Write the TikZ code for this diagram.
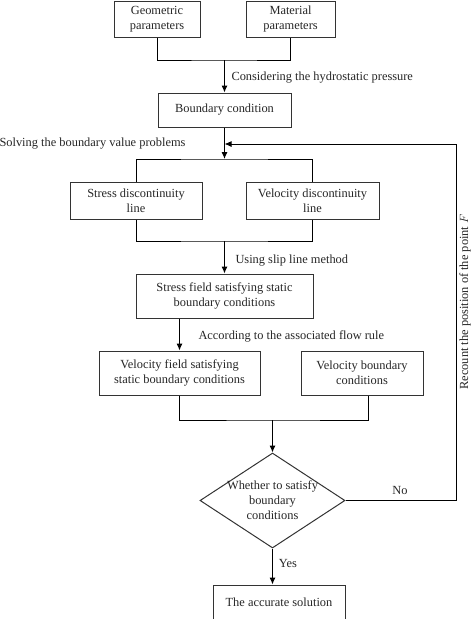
\documentclass[tikz,border=0pt]{standalone}
\usepackage{fontspec}
\setmainfont{Liberation Serif}
\usepackage{tikz}
\usetikzlibrary{arrows.meta,positioning,calc,shapes.geometric}

\begin{document}
\begin{tikzpicture}[
    x=1pt, y=-1pt,
    >={Latex[length=7pt,width=6pt]},
    line width=1pt,
    every node/.style={font=\fontsize{12.4}{15}\selectfont, text=black!85},
    stepbox/.style={draw=black!80, rectangle, align=center, inner sep=0pt},
    decide/.style={draw=black!80, diamond, aspect=1.53, inner sep=0pt, minimum width=145pt, minimum height=95pt},
    note/.style={inner sep=0pt}
]
\useasboundingbox (0,0) rectangle (474,619);

\node[stepbox, minimum width=86pt, minimum height=36pt] (geo) at (157,19) {Geometric\\parameters};
\node[stepbox, minimum width=89pt, minimum height=36pt] (mat) at (290.5,19) {Material\\parameters};
\node[stepbox, minimum width=133pt, minimum height=34pt] (bc) at (224.5,110) {Boundary condition};

\node[stepbox, minimum width=132pt, minimum height=37pt] (sdl) at (136,200.5) {Stress discontinuity\\line};
\node[stepbox, minimum width=133pt, minimum height=37pt] (vdl) at (312.5,200.5) {Velocity discontinuity\\line};

\node[stepbox, minimum width=177pt, minimum height=44pt] (sf) at (224.5,296) {Stress field satisfying static\\boundary conditions};

\node[stepbox, minimum width=161pt, minimum height=44pt] (vf) at (179.5,373) {Velocity field satisfying\\static boundary conditions};
\node[stepbox, minimum width=122pt, minimum height=44pt] (vbc) at (362,373) {Velocity boundary\\conditions};

\node[decide, label={[note, align=center]center:Whether to satisfy\\boundary\\conditions}] (chk) at (272.5,500.5) {};
\node[stepbox, minimum width=132pt, minimum height=34pt] (acc) at (279,602) {The accurate solution};

\coordinate (j1) at (224.5,60);
\coordinate (j2) at (224.5,159);
\coordinate (j3) at (224.5,241);
\coordinate (j4) at (272.5,420);
\coordinate (back) at (456,144);

% joins and arrows
\draw (geo.south) |- (j1) -| (mat.south);
\draw[->] (j1) -- (bc.north);
\draw[->] (bc.south) -- (j2);
\draw (sdl.north) |- (j2) -| (vdl.north);
\draw (sdl.south) |- (j3) -| (vdl.south);
\draw[->] (j3) -- (sf.north);
\draw[->] (sf.south -| vf.north) -- (vf.north);
\draw (vf.south) |- (j4) -| ([xshift=6pt]vbc.south);
\draw[->] (j4) -- (chk.north);
\draw[->] (chk.south) -- (chk.south |- acc.north);
\draw[->] (chk.east) -| (back) -- (bc.south |- back);

% labels
\node[note, anchor=west] (l1) at (231,78) {Considering the hydrostatic pressure};
\node[note, anchor=west] (l2) at (-1,144) {Solving the boundary value problems};
\node[note, anchor=west] (l3) at (235,261) {Using slip line method};
\node[note, anchor=west] (l4) at (198,336) {According to the associated flow rule};
\node[note] (no) at (400,490) {No};
\node[note] (yes) at (288,563) {Yes};
\node[note, rotate=90] (rec) at (465,302) {Recount the position of the point $F$};
\end{tikzpicture}
\end{document}
